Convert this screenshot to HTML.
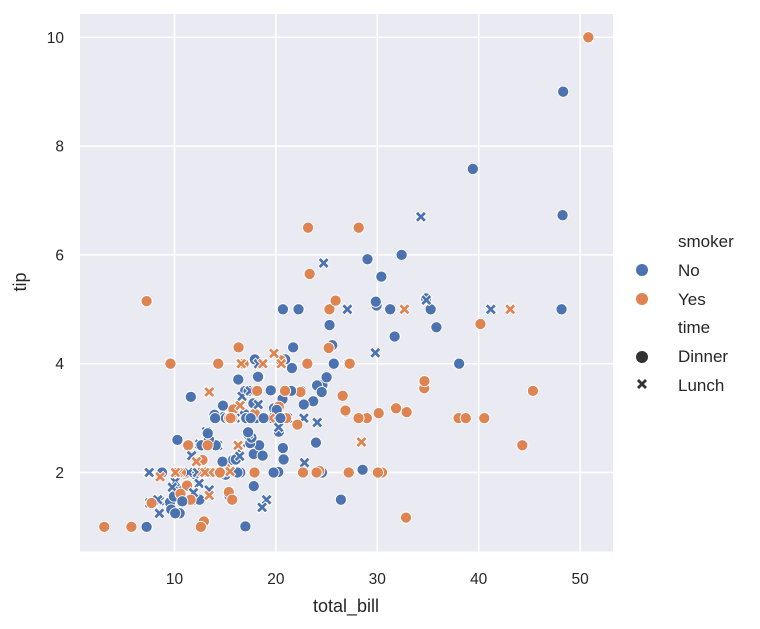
<!DOCTYPE html>
<html><head><meta charset="utf-8"><style>
body{margin:0;background:#fff;}
svg{display:block;font-family:"Liberation Sans",Arial,sans-serif;}
</style></head><body>
<svg id="chart" width="760" height="629">
<rect x="80" y="14" width="533" height="537.5" fill="#eaeaf2"/>
<g id="grid"></g><g id="ticks"></g><g id="marks"></g>
<text x="346" y="612" text-anchor="middle" font-size="18" fill="#262626">total_bill</text>
<text x="26" y="282" text-anchor="middle" font-size="18" fill="#262626" transform="rotate(-90 26 282)">tip</text>
<g font-size="17" fill="#262626">
<text x="678" y="247">smoker</text>
<circle cx="642" cy="270" r="6" fill="#4c72b0"/>
<text x="678" y="276">No</text>
<circle cx="642" cy="299" r="6" fill="#dd8452"/>
<text x="678" y="305">Yes</text>
<text x="678" y="333">time</text>
<circle cx="642" cy="357" r="6" fill="#333"/>
<text x="678" y="362">Dinner</text>
<path d="M637,381 L639,379 L642,382 L645,379 L647,381 L644,384 L647,387 L645,389 L642,386 L639,389 L637,387 L640,384 Z" fill="#333"/>
<text x="678" y="391">Lunch</text>
</g>
</svg>
<script>
const totalBill=[16.99,10.34,21.01,23.68,24.59,25.29,8.77,26.88,15.04,14.78,10.27,35.26,15.42,18.43,14.83,21.58,10.33,16.29,16.97,20.65,17.92,20.29,15.77,39.42,19.82,17.81,13.37,12.69,21.7,19.65,9.55,18.35,15.06,20.69,17.78,24.06,16.31,16.93,18.69,31.27,16.04,17.46,13.94,9.68,30.4,18.29,22.23,32.4,28.55,18.04,12.54,10.29,34.81,9.94,25.56,19.49,38.01,26.41,11.24,48.27,20.29,13.81,11.02,18.29,17.59,20.08,16.45,3.07,20.23,15.01,12.02,17.07,26.86,25.28,14.73,10.51,17.92,27.2,22.76,17.29,19.44,16.66,10.07,32.68,15.98,34.83,13.03,18.28,24.71,21.16,28.97,22.49,5.75,16.32,22.75,40.17,27.28,12.03,21.01,12.46,11.35,15.38,44.3,22.42,20.92,15.36,20.49,25.21,18.24,14.31,14.0,7.25,38.07,23.95,25.71,17.31,29.93,10.65,12.43,24.08,11.69,13.42,14.26,15.95,12.48,29.8,8.52,14.52,11.38,22.82,19.08,20.27,11.17,12.26,18.26,8.51,10.33,14.15,16.0,13.16,17.47,34.3,41.19,27.05,16.43,8.35,18.64,11.87,9.78,7.51,14.07,13.13,17.26,24.55,19.77,29.85,48.17,25.0,13.39,16.49,21.5,12.66,16.21,13.81,17.51,24.52,20.76,31.71,10.59,10.63,50.81,15.81,7.25,31.85,16.82,32.9,17.89,14.48,9.6,34.63,34.65,23.33,45.35,23.17,40.55,20.69,20.9,30.46,18.15,23.1,15.69,19.81,28.44,15.48,16.58,7.56,10.34,43.11,13.0,13.51,18.71,12.74,13.0,16.4,20.53,16.47,26.59,38.73,24.27,12.76,30.06,25.89,48.33,13.27,28.17,12.9,28.15,11.59,7.74,30.14,12.16,13.42,8.58,15.98,13.42,16.27,10.09,20.45,13.28,22.12,24.01,15.69,11.61,10.77,15.53,10.07,12.6,32.83,35.83,29.03,27.18,22.67,17.82,18.78];
const tipValues=[1.01,1.66,3.5,3.31,3.61,4.71,2.0,3.12,1.96,3.23,1.71,5.0,1.57,3.0,3.02,3.92,1.67,3.71,3.5,3.35,4.08,2.75,2.23,7.58,3.18,2.34,2.0,2.0,4.3,3.0,1.45,2.5,3.0,2.45,3.27,3.6,2.0,3.07,2.31,5.0,2.24,2.54,3.06,1.32,5.6,3.0,5.0,6.0,2.05,3.0,2.5,2.6,5.2,1.56,4.34,3.51,3.0,1.5,1.76,6.73,3.21,2.0,1.98,3.76,2.64,3.15,2.47,1.0,2.01,2.09,1.97,3.0,3.14,5.0,2.2,1.25,3.08,4.0,3.0,2.71,3.0,3.4,1.83,5.0,2.03,5.17,2.0,4.0,5.85,3.0,3.0,3.5,1.0,4.3,3.25,4.73,4.0,1.5,3.0,1.5,2.5,3.0,2.5,3.48,4.08,1.64,4.06,4.29,3.76,4.0,3.0,1.0,4.0,2.55,4.0,3.5,5.07,1.5,1.8,2.92,2.31,1.68,2.5,2.0,2.52,4.2,1.48,2.0,2.0,2.18,1.5,2.83,1.5,2.0,3.25,1.25,2.0,2.0,2.0,2.75,3.5,6.7,5.0,5.0,2.3,1.5,1.36,1.63,1.73,2.0,2.5,2.0,2.74,2.0,2.0,5.14,5.0,3.75,2.61,2.0,3.5,2.5,2.0,2.0,3.0,3.48,2.24,4.5,1.61,2.0,10.0,3.16,5.15,3.18,4.0,3.11,2.0,2.0,4.0,3.55,3.68,5.65,3.5,6.5,3.0,5.0,3.5,2.0,3.5,4.0,1.5,4.19,2.56,2.02,4.0,1.44,2.0,5.0,2.0,2.0,4.0,2.01,2.0,2.5,4.0,3.23,3.41,3.0,2.03,2.23,2.0,5.16,9.0,2.5,6.5,1.1,3.0,1.5,1.44,3.09,2.2,3.48,1.92,3.0,1.58,2.5,2.0,3.0,2.72,2.88,2.0,3.0,3.39,1.47,3.0,1.25,1.0,1.17,4.67,5.92,2.0,2.0,1.75,3.0];
const smokerCodes=("NNNNNNNNNN"+"NNNNNNNNNN"+"NNNNNNNNNN"+"NNNNNNNNNN"+"NNNNNNNNNN"+"NNNNNN"+
"YNYNYYYYNNNYNYNNYYNNY"+"NNNYNNYNNNNNN"+"YNYYNYYYYNYY"+"YYNYYYNYNNNNNNN"+
"NNNNNNNNNN"+"NNNNNNNNNN"+"NY"+"NNNNNNNNNNN"+
"NNNNNNNNNNNNNYNNN"+"N"+"YYYY"+"YYYYYYYYYYYYYNYYYYY"+"YYYYNYYYYYYYYYY"+"YYYYYYNYYYYYYY"+"YYYNYYY"+"NNYYYNNYNYYNNYYNN").split("");
const timeCodes=("DDDDDDDDDD"+"DDDDDDDDDD"+"DDDDDDDDDD"+"DDDDDDDDDD"+"DDDDDDDDDD"+"DDDDDDDDDD"+"DDDDDDDDDD"+"DDDDDDD"+
"LLLLLLLLLLLLL"+"DDDDDDDDDDDD"+"DDDDDDDDDDDDDDD"+
"LLLLLLLLLL"+"LLLLLLLLLL"+"LLLLLLLLLL"+"LLL"+
"DDDDDDDDDDDDDDDDDD"+"DDDD"+"DDDDDDDDDDDDDDDDDDD"+"LLLLLLLLLLLLLLL"+"DDDDDDDDDDDDDD"+"LLLLLLL"+"DDDDDDDDDDDDDDDDD").split("");
const xTicks=[10,20,30,40,50];
const yTicks=[2,4,6,8,10];

const X0=73.1, XS=10.14, Y0=581.3, YS=54.4;
const sx=v=>X0+v*XS, sy=v=>Y0-v*YS;
const NS="http://www.w3.org/2000/svg";
const grid=document.getElementById('grid'), ticks=document.getElementById('ticks'), marks=document.getElementById('marks');
function mk(tag,attrs,parent){const e=document.createElementNS(NS,tag);for(const k in attrs)e.setAttribute(k,attrs[k]);parent.appendChild(e);return e;}
xTicks.forEach(t=>{
  const l=mk('line',{x1:sx(t),x2:sx(t),y1:14,y2:551.5,stroke:'#fff','stroke-width':1.5},grid);
  
  
  const tx=mk('text',{x:sx(t),y:584,'text-anchor':'middle','font-size':15.5,fill:'#262626'},ticks);
  tx.textContent=t;
  
  
});
yTicks.forEach(t=>{
  const l=mk('line',{x1:80,x2:613,y1:sy(t),y2:sy(t),stroke:'#fff','stroke-width':1.5},grid);
  
  
  const tx=mk('text',{x:64,y:sy(t)+5.5,'text-anchor':'end','font-size':15.5,fill:'#262626'},ticks);
  tx.textContent=t;
  
  
});
for(let i=0;i<totalBill.length;i++){
  const cx=sx(totalBill[i]), cy=sy(tipValues[i]);
  const col=smokerCodes[i]==='Y'?'#dd8452':'#4c72b0';
  let e;
  if(timeCodes[i]==='L'){
    const a=2.6,b=5.6;
    const d=`M${cx-b+a},${cy-b} L${cx},${cy-a} L${cx+b-a},${cy-b} L${cx+b},${cy-b+a} L${cx+a},${cy} L${cx+b},${cy+b-a} L${cx+b-a},${cy+b} L${cx},${cy+a} L${cx-b+a},${cy+b} L${cx-b},${cy+b-a} L${cx-a},${cy} L${cx-b},${cy-b+a} Z`;
    e=mk('path',{d:d,fill:col,stroke:'#fff','stroke-width':0.9},marks);
    
  } else {
    e=mk('circle',{cx:cx,cy:cy,r:5.6,fill:col,stroke:'#fff','stroke-width':0.9},marks);
    
  }
  
}
</script>
</body></html>
